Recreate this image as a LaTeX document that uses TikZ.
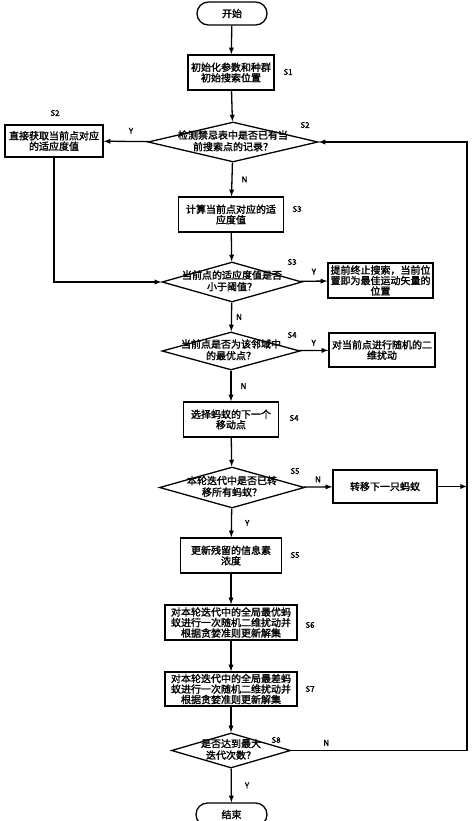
\documentclass[tikz,border=0pt]{standalone}
\usepackage{fontspec}
\newfontfamily\cjk{Noto Sans CJK SC}[FakeBold=1.8]
\usetikzlibrary{shapes,arrows,positioning,calc}
\tikzset{every picture/.style={/utils/exec={\cjk\fontsize{10}{10.5}\selectfont}}}
\newcommand\dtext[1]{\makebox[0pt]{\begin{tabular}{@{}c@{}}#1\end{tabular}}}

\begin{document}
\begin{tikzpicture}[x=1pt, y=-1pt, >=latex, line width=1.3pt,
   term/.style={draw, rounded rectangle, minimum width=70pt, minimum height=23pt, inner sep=0pt},
   block/.style={draw, rectangle, minimum height=35pt, inner sep=1pt},
   test/.style={draw, diamond, inner sep=0pt},
   tag/.style={font=\cjk\fontsize{8}{8}\selectfont, inner sep=0pt},
   every text node part/.style={align=center}]

    \useasboundingbox (0,0) rectangle (474,821);

    % Place nodes
    \node [term] (start) at (232,13.5) {开始};
    \node [block, minimum width=86pt] (init) at (231,72.5) {初始化参数和种群\\初始搜索位置};
    \node [test, minimum width=170pt, minimum height=40pt] (tabu) at (233,142) {\dtext{检测禁忌表中是否已有当\\前搜索点的记录？}};
    \node [block, minimum width=98pt, minimum height=32pt] (fetch) at (54,141) {直接获取当前点对应\\的适应度值};
    \node [block, minimum width=105pt] (calc) at (231,214.5) {计算当前点对应的适\\应度值};
    \node [test, minimum width=140pt, minimum height=40pt] (thresh) at (232,282) {\dtext{当前点的适应度值是否\\小于阈值？}};
    \node [block, minimum width=105pt] (stop) at (380.5,280.5) {提前终止搜索，当前位\\置即为最佳运动矢量的\\位置};
    \node [test, minimum width=138pt, minimum height=38pt] (best) at (231,351) {\dtext{当前点是否为该邻域中\\的最优点？}};
    \node [block, minimum width=106pt, minimum height=34pt] (perturb) at (382,350) {对当前点进行随机的二\\维扰动};
    \node [block, minimum width=95pt] (move) at (231,419.5) {选择蚂蚁的下一个\\移动点};
    \node [test, minimum width=145pt, minimum height=41pt] (allant) at (232,487.5) {\dtext{本轮迭代中是否已转\\移所有蚂蚁？}};
    \node [block, minimum width=104pt, minimum height=33pt] (nextant) at (385,486.5) {转移下一只蚂蚁};
    \node [block, minimum width=101pt] (phero) at (231,555.5) {更新残留的信息素\\浓度};
    \node [block, minimum width=132pt] (gbest) at (231,622.5) {对本轮迭代中的全局最优蚂\\蚁进行一次随机二维扰动并\\根据贪婪准则更新解集};
    \node [block, minimum width=132pt, minimum height=34pt] (gworst) at (231,689) {对本轮迭代中的全局最差蚂\\蚁进行一次随机二维扰动并\\根据贪婪准则更新解集};
    \node [test, minimum width=119pt, minimum height=35pt] (maxit) at (231,750.5) {\dtext{是否达到最大\\迭代次数？}};
    \node [term, minimum width=71pt] (end) at (231.5,814.5) {结束};

    \coordinate (rbot) at (467,750.5);
    \coordinate (rtop) at (467,142);

    % Step tags
    \node [tag] (t1) at (288,72) {S1};
    \node [tag] (t2a) at (55,113) {S2};
    \node [tag] (t2b) at (305,125) {S2};
    \node [tag] (t3a) at (297,209) {S3};
    \node [tag] (t3b) at (292,262) {S3};
    \node [tag] (t4a) at (292,335) {S4};
    \node [tag] (t4b) at (294,418) {S4};
    \node [tag] (t5a) at (295,471) {S5};
    \node [tag] (t5b) at (295,555) {S5};
    \node [tag] (t6) at (310,625) {S6};
    \node [tag] (t7) at (310,689) {S7};
    \node [tag] (t8) at (276,740) {S8};

    % Draw edges
    \draw [->] (start) -- (init);
    \draw [->] (init) -- (tabu);
    \draw [->] (tabu) -- node [tag, pos=0.4, above=7pt] {Y} (fetch);
    \draw [->] (tabu) -- node [tag, right=9pt] {N} (calc);
    \draw [->] (fetch) |- (thresh);
    \draw [->] (calc) -- (thresh);
    \draw [->] (thresh) -- node [tag, above=6pt] {Y} (stop);
    \draw [->] (thresh) -- node [tag, right=4pt] {N} (best);
    \draw [->] (best) -- node [tag, above=4pt] {Y} (perturb);
    \draw [->] (best) -- node [tag, right=9pt] {N} (move);
    \draw [->] (move) -- (allant);
    \draw [->] (allant) -- node [tag, above=4pt] {N} (nextant);
    \draw [->] (nextant) -- (nextant -| rtop);
    \draw [->] (allant) -- node [tag, right=13pt] {Y} (phero);
    \draw [->] (phero) -- (gbest);
    \draw [->] (gbest) -- (gworst);
    \draw [->] (gworst) -- (maxit);
    \draw [->] (maxit) -- node [tag, pos=0.2, above=4pt] {N} (rbot) -- (rtop) -- (tabu);
    \draw [->] (maxit) -- node [tag, right=13pt] {Y} (end);
\end{tikzpicture}
\end{document}
